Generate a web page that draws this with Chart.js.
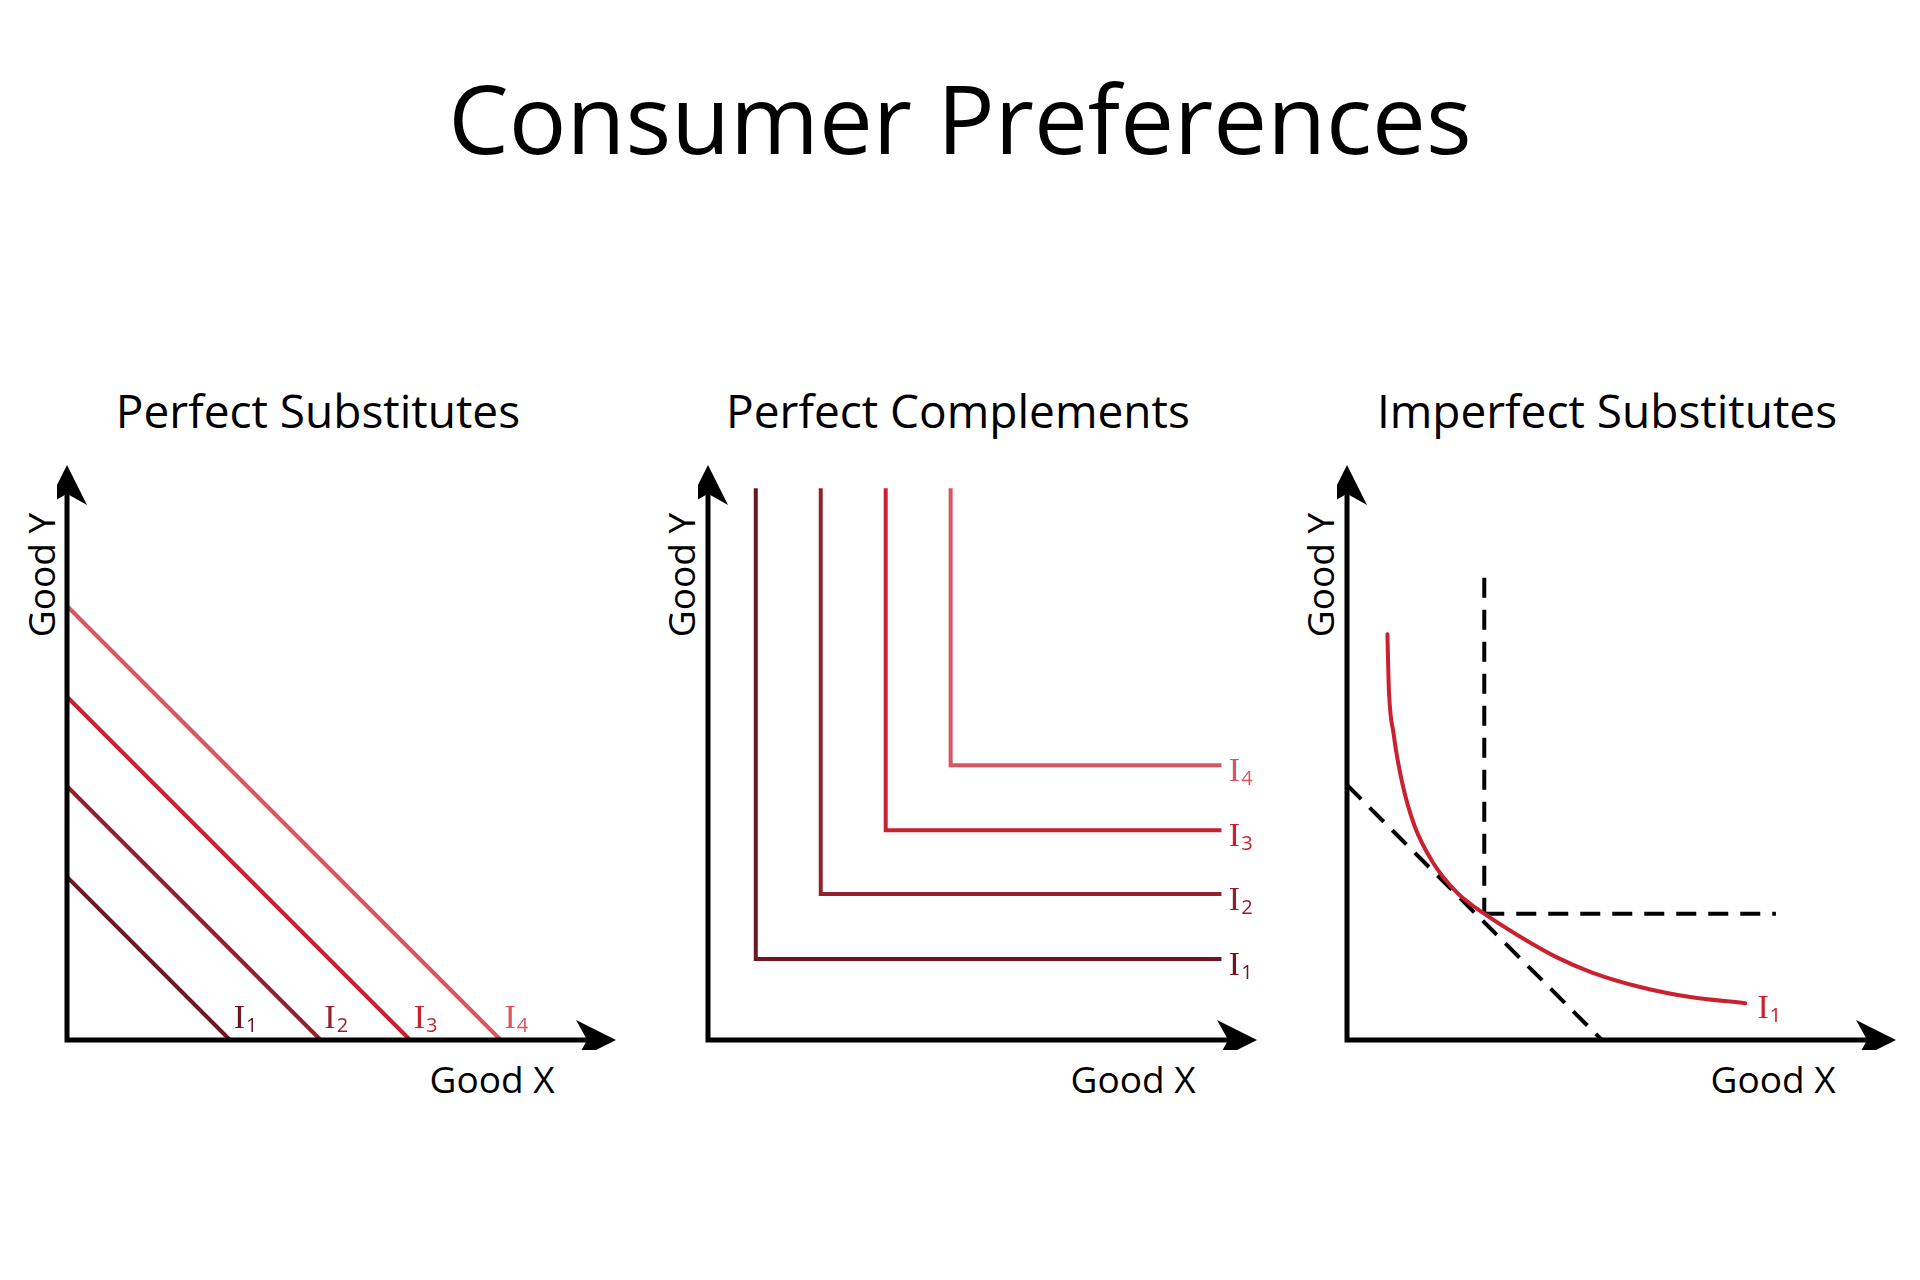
<!DOCTYPE html>
<html><head><meta charset="utf-8">
<script src="https://cdn.jsdelivr.net/npm/chart.js@4/dist/chart.umd.min.js"></script>
<style>
body{margin:0;width:1920px;height:1280px;background:#fff;position:relative;font-family:"Open Sans",sans-serif;overflow:hidden}
.t{position:absolute;color:#000;white-space:nowrap;transform:translate(-50%,-50%)}
canvas{position:absolute}
</style></head><body>
<div class="t" style="left:960px;top:116px;font-size:96px">Consumer Preferences</div>
<div class="t" style="left:318px;top:410px;font-size:46px">Perfect Substitutes</div>
<div class="t" style="left:958px;top:410px;font-size:46px">Perfect Complements</div>
<div class="t" style="left:1607px;top:410px;font-size:46px">Imperfect Substitutes</div>
<div class="t" style="left:40px;top:575px;font-size:37px;transform:translate(-50%,-50%) rotate(-90deg)">Good Y</div>
<div class="t" style="left:680px;top:575px;font-size:37px;transform:translate(-50%,-50%) rotate(-90deg)">Good Y</div>
<div class="t" style="left:1319px;top:575px;font-size:37px;transform:translate(-50%,-50%) rotate(-90deg)">Good Y</div>
<div class="t" style="left:492px;top:1078px;font-size:37px">Good X</div>
<div class="t" style="left:1133px;top:1078px;font-size:37px">Good X</div>
<div class="t" style="left:1773px;top:1078px;font-size:37px">Good X</div>
<canvas id="c1" width="559" height="585" style="left:57px;top:465px"></canvas>
<canvas id="c2" width="559" height="585" style="left:698px;top:465px"></canvas>
<canvas id="c3" width="559" height="585" style="left:1337px;top:465px"></canvas>
<script>
// data (units relative to origin)
const curveLabels = ["I1","I2","I3","I4"];
const curveColors = ["#6e1622","#92202d","#c9212f","#d9555f"];
const subIntercepts = [133, 207, 280, 354];
const compCornerX = [39, 92, 145, 198];
const compCornerY = [66, 119, 171, 224];
const compTop = 450;
const compRight = 419;
const imperfX = [33, 34, 38, 45, 55, 70, 90, 112, 140, 170, 200, 240, 280, 325];
const imperfY = [331, 290, 250, 210, 175, 145, 120, 103, 85, 68, 55, 43, 35, 30];
const tangentX = [0, 208];
const tangentY = [208, 0];
const optimumX = 112, optimumY = 103, dashTop = 377, dashRight = 350;

const XMAX = 448, YMAX = 469;

const axesPlugin = {
  id:'axes',
  afterDraw(chart){
    const ctx = chart.ctx, a = chart.chartArea;
    const L = 40, H = 20;
    ctx.save();
    ctx.strokeStyle = '#000'; ctx.fillStyle = '#000'; ctx.lineWidth = 5; ctx.lineCap='butt';
    ctx.beginPath();
    ctx.moveTo(a.left, a.top + L*0.7); ctx.lineTo(a.left, a.bottom); ctx.lineTo(a.right - L*0.7, a.bottom);
    ctx.stroke();
    // y arrow
    ctx.beginPath();
    ctx.moveTo(a.left, a.top); ctx.lineTo(a.left + H, a.top + L); ctx.lineTo(a.left, a.top + L*0.72); ctx.lineTo(a.left - H, a.top + L); ctx.closePath(); ctx.fill();
    // x arrow
    ctx.beginPath();
    ctx.moveTo(a.right, a.bottom); ctx.lineTo(a.right - L, a.bottom - H); ctx.lineTo(a.right - L*0.72, a.bottom); ctx.lineTo(a.right - L, a.bottom + H); ctx.closePath(); ctx.fill();
    // labels
    const lbls = chart.options.plugins.axes.labels || [];
    const xs = chart.scales.x, ys = chart.scales.y;
    lbls.forEach(l=>{
      const px = xs.getPixelForValue(l.x), py = ys.getPixelForValue(l.y);
      ctx.fillStyle = l.color;
      ctx.font = '34px "Liberation Serif", serif';
      ctx.textBaseline = 'alphabetic'; ctx.textAlign='left';
      ctx.fillText('I', px, py);
      const w = ctx.measureText('I').width;
      ctx.font = '20px "Open Sans", sans-serif';
      ctx.fillText(l.text.slice(1), px + w + 1, py + 4);
    });
    ctx.restore();
  }
};

function base(datasets, labels){
  return {
    type:'line',
    data:{datasets},
    options:{
      responsive:false, animation:false, events:[],
      layout:{padding:{left:10,bottom:10,top:0,right:0}},
      scales:{x:{type:'linear',min:0,max:XMAX,display:false},y:{type:'linear',min:0,max:YMAX,display:false}},
      plugins:{legend:{display:false},tooltip:{enabled:false},axes:{labels}},
      elements:{point:{radius:0},line:{borderWidth:4,tension:0}}
    },
    plugins:[axesPlugin]
  };
}
const pts = (xs,ys)=>xs.map((x,i)=>({x,y:ys[i]}));

// Panel 1
new Chart(document.getElementById('c1'), base(
  subIntercepts.map((v,i)=>({label:curveLabels[i],data:pts([0,v],[v,0]),borderColor:curveColors[i],clip:false})),
  subIntercepts.map((v,i)=>({x:v+3,y:10,text:curveLabels[i],color:curveColors[i]}))
));
// Panel 2
new Chart(document.getElementById('c2'), base(
  compCornerX.map((cx,i)=>({label:curveLabels[i],data:pts([cx,cx,compRight],[compTop,compCornerY[i],compCornerY[i]]),borderColor:curveColors[i],clip:false})),
  compCornerY.map((cy,i)=>({x:compRight+6,y:cy-13,text:curveLabels[i],color:curveColors[i]}))
));
// Panel 3
new Chart(document.getElementById('c3'), base([
  {label:'I1',data:pts(imperfX,imperfY),borderColor:'#c9212f',cubicInterpolationMode:'monotone',borderCapStyle:'round',clip:false},
  {label:'tangent',data:pts(tangentX,tangentY),borderColor:'#000',borderDash:[20,12],clip:false},
  {label:'vdash',data:pts([optimumX,optimumX],[dashTop,optimumY]),borderColor:'#000',borderDash:[20,12],clip:false},
  {label:'hdash',data:pts([optimumX,dashRight],[optimumY,optimumY]),borderColor:'#000',borderDash:[20,12],clip:false}
],[{x:335,y:18,text:'I1',color:'#c9212f'}]));
</script>
</body></html>
